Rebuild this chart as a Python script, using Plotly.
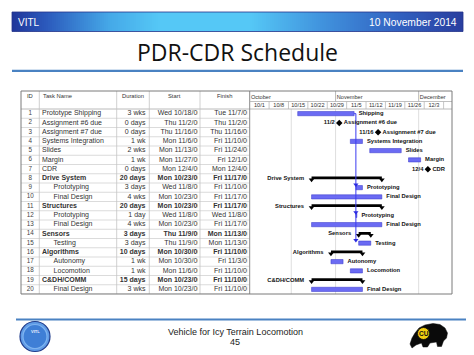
import plotly.graph_objects as go
from datetime import datetime, timedelta

# ------------------------------------------------------------------ data
ids = list(range(1, 21))
task_names = ["Prototype Shipping", "Assignment #6 due", "Assignment #7 due",
              "Systems Integration", "Slides", "Margin", "CDR", "Drive System",
              "Prototyping", "Final Design", "Structures", "Prototyping",
              "Final Design", "Sensors", "Testing", "Algorithms", "Autonomy",
              "Locomotion", "C&DH/COMM", "Final Design"]
outline_level = [1, 1, 1, 1, 1, 1, 1, 1, 2, 2, 1, 2, 2, 1, 2, 1, 2, 2, 1, 2]
durations = ["3 wks", "0 days", "0 days", "1 wk", "2 wks", "1 wk", "0 days",
             "20 days", "3 days", "4 wks", "20 days", "1 day", "4 wks",
             "3 days", "3 days", "10 days", "1 wk", "1 wk", "15 days", "3 wks"]
start_txt = ["Wed 10/18/06", "Thu 11/2/06", "Thu 11/16/06", "Mon 11/6/06",
             "Mon 11/13/06", "Mon 11/27/06", "Mon 12/4/06", "Mon 10/23/06",
             "Wed 11/8/06", "Mon 10/23/06", "Mon 10/23/06", "Wed 11/8/06",
             "Mon 10/23/06", "Thu 11/9/06", "Thu 11/9/06", "Mon 10/30/06",
             "Mon 10/30/06", "Mon 11/6/06", "Mon 10/23/06", "Mon 10/23/06"]
finish_txt = ["Tue 11/7/06", "Thu 11/2/06", "Thu 11/16/06", "Fri 11/10/06",
              "Fri 11/24/06", "Fri 12/1/06", "Mon 12/4/06", "Fri 11/17/06",
              "Fri 11/10/06", "Fri 11/17/06", "Fri 11/17/06", "Wed 11/8/06",
              "Fri 11/17/06", "Mon 11/13/06", "Mon 11/13/06", "Fri 11/10/06",
              "Fri 11/3/06", "Fri 11/10/06", "Fri 11/10/06", "Fri 11/10/06"]
task_kind = ["task", "milestone", "milestone", "task", "task", "task",
             "milestone", "summary", "task", "task", "summary", "task", "task",
             "summary", "task", "summary", "task", "task", "summary", "task"]
bar_labels = ["Shipping", "Assignment #6 due", "Assignment #7 due",
              "Systems Integration", "Slides", "Margin", "CDR", "Drive System",
              "Prototyping", "Final Design", "Structures", "Prototyping",
              "Final Design", "Sensors", "Testing", "Algorithms", "Autonomy",
              "Locomotion", "C&DH/COMM", "Final Design"]
column_headers = ["ID", "Task Name", "Duration", "Start", "Finish"]
month_labels = ["October", "November", "December"]
month_starts = ["2006-10-01", "2006-11-01", "2006-12-01"]
week_labels = ["10/1", "10/8", "10/15", "10/22", "10/29", "11/5", "11/12",
               "11/19", "11/26", "12/3", "12/10"]
week_starts = ["2006-10-01", "2006-10-08", "2006-10-15", "2006-10-22",
               "2006-10-29", "2006-11-05", "2006-11-12", "2006-11-19",
               "2006-11-26", "2006-12-03", "2006-12-10"]
grid_dates = ["2006-10-16", "2006-11-01", "2006-12-01"]
link_from = 1
link_to = [9, 12, 15]

# ------------------------------------------------------------------ geometry
W, H = 474, 355
FONT = "Liberation Sans"


def X(px):
    return px / W


def Y(py):
    return 1 - py / H


TBL_L, TBL_R, TBL_T, TBL_B = 21, 452, 91, 294
ROW1_TOP = 109
ROW_H = (TBL_B - ROW1_TOP) / 20
GX0 = 249.7
PX_DAY = 2.77
MONTH_TXT, MONTH_ROW_B, WEEK_TXT = 97.5, 101.5, 105.3
T0 = datetime(2006, 10, 1)
T1 = T0 + timedelta(days=(TBL_R - GX0) / PX_DAY)
col_edges = [21, 39.3, 116.7, 149.3, 200, GX0]


def ydata(py):
    return 0.5 + (py - ROW1_TOP) / ROW_H


def dpx(px):
    return timedelta(days=px / PX_DAY)


def parse(s):
    return datetime.strptime(s.split()[1], "%m/%d/%y")


start_d = [parse(s) for s in start_txt]
finish_d = [parse(s) for s in finish_txt]
bar_start = [d + timedelta(hours=8) for d in start_d]
bar_end = [d + timedelta(hours=17) for d in finish_d]
is_sum = [k == "summary" for k in task_kind]

fig = go.Figure()

# ------------------------------------------------------------------ gantt bars
t_idx = [i for i, k in enumerate(task_kind) if k == "task"]
fig.add_trace(go.Bar(
    orientation="h", y=[ids[i] for i in t_idx],
    base=[bar_start[i] for i in t_idx],
    x=[(bar_end[i] - bar_start[i]).total_seconds() * 1000 for i in t_idx],
    width=0.46, marker=dict(color="#6b6bf3", line=dict(color="#3434c8", width=0.5)),
    hoverinfo="skip"))

s_idx = [i for i, k in enumerate(task_kind) if k == "summary"]
fig.add_trace(go.Bar(
    orientation="h", y=[ids[i] - 0.06 for i in s_idx],
    base=[bar_start[i] for i in s_idx],
    x=[(bar_end[i] - bar_start[i]).total_seconds() * 1000 for i in s_idx],
    width=0.3, marker=dict(color="#000000", line=dict(width=0)),
    hoverinfo="skip"))
fig.add_trace(go.Scatter(
    x=[bar_start[i] for i in s_idx] + [bar_end[i] for i in s_idx],
    y=[ids[i] + 0.14 for i in s_idx] * 2, mode="markers",
    marker=dict(symbol="triangle-down", size=5, color="#000000"),
    hoverinfo="skip"))

m_idx = [i for i, k in enumerate(task_kind) if k == "milestone"]
fig.add_trace(go.Scatter(
    x=[bar_start[i] for i in m_idx], y=[ids[i] for i in m_idx], mode="markers",
    marker=dict(symbol="diamond", size=5, color="#000000"), hoverinfo="skip"))

# dependency link
src = link_from - 1
link_x = bar_start[link_to[0] - 1]
fig.add_trace(go.Scatter(
    x=[bar_end[src], link_x, link_x], y=[ids[src], ids[src], max(link_to) - 0.3],
    mode="lines", line=dict(color="#3b3bf0", width=1), hoverinfo="skip"))
fig.add_trace(go.Scatter(
    x=[link_x] * len(link_to), y=[r - 0.32 for r in link_to], mode="markers",
    marker=dict(symbol="triangle-down", size=4.5, color="#2a2ae0"),
    hoverinfo="skip"))

# gantt labels
lab_font = dict(family=FONT, size=5.8, color="#111111")
fig.add_trace(go.Scatter(
    x=[bar_end[i] + dpx(4.5) for i in t_idx], y=[ids[i] for i in t_idx],
    text=["<b>%s</b>" % bar_labels[i] for i in t_idx], mode="text",
    textposition="middle right", textfont=lab_font, cliponaxis=False,
    hoverinfo="skip"))
fig.add_trace(go.Scatter(
    x=[bar_start[i] - dpx(7.5) for i in s_idx], y=[ids[i] for i in s_idx],
    text=["<b>%s</b>" % bar_labels[i] for i in s_idx], mode="text",
    textposition="middle left", textfont=lab_font, cliponaxis=False,
    hoverinfo="skip"))
fig.add_trace(go.Scatter(
    x=[bar_start[i] + dpx(4.5) for i in m_idx], y=[ids[i] for i in m_idx],
    text=["<b>%s</b>" % bar_labels[i] for i in m_idx], mode="text",
    textposition="middle right", textfont=lab_font, cliponaxis=False,
    hoverinfo="skip"))
fig.add_trace(go.Scatter(
    x=[bar_start[i] - dpx(4.5) for i in m_idx], y=[ids[i] for i in m_idx],
    text=["<b>%d/%d</b>" % (start_d[i].month, start_d[i].day) for i in m_idx],
    mode="text", textposition="middle left", textfont=lab_font,
    cliponaxis=False, hoverinfo="skip"))

# gantt timescale header
hdr_font = dict(family=FONT, size=5.6, color="#333333")
fig.add_trace(go.Scatter(
    x=[datetime.fromisoformat(d) + dpx(1.2) for d in month_starts],
    y=[ydata(MONTH_TXT)] * len(month_starts),
    text=month_labels, mode="text", textposition="middle right",
    textfont=hdr_font, cliponaxis=True, hoverinfo="skip"))
fig.add_trace(go.Scatter(
    x=[datetime.fromisoformat(d) + timedelta(days=3.5) for d in week_starts],
    y=[ydata(WEEK_TXT)] * len(week_starts),
    text=week_labels, mode="text", textposition="middle center",
    textfont=hdr_font, cliponaxis=True, hoverinfo="skip"))

# ------------------------------------------------------------------ table text
tbl_font = dict(family=FONT, size=7, color="#333333")


def b(s, i):
    return "<b>%s</b>" % s if is_sum[i] else s


col_axes = {}
clip_right = [39.3, 116.7, 149.3, 197.6, 247.2]
for c in range(5):
    name = "xaxis%d" % (c + 2)
    col_axes[name] = dict(domain=[X(col_edges[c]), X(clip_right[c])],
                          range=[col_edges[c], clip_right[c]], visible=False,
                          anchor="y", fixedrange=True)

fig.add_trace(go.Scatter(
    x=[(col_edges[0] + col_edges[1]) / 2] * 20, y=ids, xaxis="x2",
    text=[str(i) for i in ids], mode="text", textposition="middle center",
    textfont=dict(family=FONT, size=6.3, color="#444444"), hoverinfo="skip"))
fig.add_trace(go.Scatter(
    x=[col_edges[1] + 2.7 + 11.6 * (lv - 1) for lv in outline_level], y=ids,
    xaxis="x3", text=[b(t, i) for i, t in enumerate(task_names)], mode="text",
    textposition="middle right", textfont=tbl_font, hoverinfo="skip"))
fig.add_trace(go.Scatter(
    x=[col_edges[3] - 3.8] * 20, y=ids, xaxis="x4",
    text=[b(t, i) for i, t in enumerate(durations)], mode="text",
    textposition="middle left", textfont=tbl_font, hoverinfo="skip"))
fig.add_trace(go.Scatter(
    x=[col_edges[4] + 1.2] * 20, y=ids, xaxis="x5",
    text=[b(t, i) for i, t in enumerate(start_txt)], mode="text",
    textposition="middle left", textfont=tbl_font, cliponaxis=True,
    hoverinfo="skip"))
fig.add_trace(go.Scatter(
    x=[col_edges[5] + 1.2] * 20, y=ids, xaxis="x6",
    text=[b(t, i) for i, t in enumerate(finish_txt)], mode="text",
    textposition="middle left", textfont=tbl_font, cliponaxis=True,
    hoverinfo="skip"))

# ------------------------------------------------------------------ shapes
shapes = []


def line(x0, y0, x1, y1, color, width=1, xref="paper", yref="paper",
         layer="above"):
    shapes.append(dict(type="line", x0=x0, y0=y0, x1=x1, y1=y1, xref=xref,
                       yref=yref, line=dict(color=color, width=width),
                       layer=layer))


# banner gradient
stops = [(12, (32, 54, 154)), (45, (43, 88, 187)), (110, (69, 169, 232)),
         (160, (85, 200, 246)), (250, (85, 200, 246)), (320, (65, 148, 222)),
         (400, (49, 96, 192)), (463, (41, 62, 159))]


def grad(px):
    for (a, ca), (bb, cb) in zip(stops[:-1], stops[1:]):
        if a <= px <= bb:
            t = (px - a) / (bb - a)
            return "rgb(%d,%d,%d)" % tuple(round(ca[k] + (cb[k] - ca[k]) * t)
                                          for k in range(3))
    return "rgb(41,62,159)"


step = 2
px = 12
while px < 463:
    shapes.append(dict(type="rect", xref="paper", yref="paper", x0=X(px),
                       x1=X(min(px + step + 0.3, 463)), y0=Y(31.5), y1=Y(12),
                       fillcolor=grad(px + step / 2), line=dict(width=0),
                       layer="below"))
    px += step
shapes.append(dict(type="rect", xref="paper", yref="paper", x0=X(12), x1=X(463),
                   y0=Y(31.5), y1=Y(12), line=dict(color="#23348a", width=0.8),
                   layer="below"))

# title / footer rules
line(X(12), Y(70.8), X(463), Y(70.8), "#4a82c2", 2.2)
line(X(16), Y(319.5), X(466), Y(319.5), "#4a82c2", 2.2)

# table grid
for r in ids:
    line(X(TBL_L), r + 0.5, X(GX0), r + 0.5, "#d2d2d2", 0.8, yref="y")
line(X(TBL_L), 0.5, X(TBL_R), 0.5, "#a8a8a8", 0.8, yref="y")
for e in col_edges[1:-1]:
    line(X(e), Y(TBL_T), X(e), Y(TBL_B), "#c4c4c4", 0.8)
line(X(GX0), Y(TBL_T), X(GX0), Y(TBL_B), "#8a8a8a", 1)
line(X(GX0), Y(MONTH_ROW_B), X(TBL_R), Y(MONTH_ROW_B), "#b0b0b0", 0.8)
for d in month_starts[1:]:
    line(d, Y(TBL_T), d, Y(MONTH_ROW_B), "#a8a8a8", 0.8, xref="x")
for d in week_starts[1:]:
    line(d, Y(MONTH_ROW_B), d, Y(ROW1_TOP), "#b8b8b8", 0.8, xref="x")
for d in grid_dates:
    line(d, 0.5, d, 20.5, "#d6d6d6", 0.8, xref="x", yref="y", layer="below")
shapes.append(dict(type="rect", xref="paper", yref="paper", x0=X(TBL_L),
                   x1=X(TBL_R), y0=Y(TBL_B), y1=Y(TBL_T),
                   line=dict(color="#7a7a7a", width=1)))

# left logo
for r, fc, lc in [(15, "#5f9be6", "#1f3c8c"), (12, "#3f7fd6", "#7fb4f0")]:
    shapes.append(dict(type="circle", xref="paper", yref="paper",
                       x0=X(35 - r), x1=X(35 + r), y0=Y(336.5 + r),
                       y1=Y(336.5 - r), fillcolor=fc,
                       line=dict(color=lc, width=1.2)))

# right logo (buffalo silhouette)
buff = [(410, 344), (412, 338), (415, 333), (419, 328), (425, 325), (433, 323.5),
        (440, 324.5), (445, 328), (447.5, 333), (446.5, 338), (443.5, 341),
        (441.5, 346.5), (437.5, 346.5), (436.5, 342), (430, 343), (427.5, 347),
        (423, 347), (421.5, 343), (416, 345), (412, 348)]
path = "M " + " L ".join("%.5f,%.5f" % (X(a), Y(bq)) for a, bq in buff) + " Z"
shapes.append(dict(type="path", xref="paper", yref="paper", path=path,
                   fillcolor="#0a0a0a", line=dict(color="#0a0a0a", width=0.5)))
shapes.append(dict(type="circle", xref="paper", yref="paper", x0=X(417.5),
                   x1=X(429.5), y0=Y(339.5), y1=Y(327.5), fillcolor="#f2cf10",
                   line=dict(color="#0a0a0a", width=0.8)))

# ------------------------------------------------------------------ annotations
ann = []


def text(x, y, s, size, color="#111111", xa="center", family=FONT, bold=False):
    ann.append(dict(x=X(x), y=Y(y), xref="paper", yref="paper",
                    text="<b>%s</b>" % s if bold else s, showarrow=False,
                    xanchor=xa, yanchor="middle", borderpad=0,
                    font=dict(family=family, size=size, color=color)))


text(17, 22.2, "VITL", 10, "#ffffff", "left")
text(457.5, 22.5, "10 November 2014", 10.3, "#ffffff", "right")
text(237, 51.5, "PDR-CDR Schedule", 23, "#111111", "center", "Open Sans")
text(235, 331.5, "Vehicle for Icy Terrain Locomotion", 9, "#222222")
text(235, 342, "45", 9, "#222222")
text(35, 331, "VITL", 4, "#e8f0ff", bold=True)
text(423.5, 333.5, "CU", 6.5, "#111111", bold=True)

hdr_y = 95.8
hdr_tbl_font = 5.8
text((col_edges[0] + col_edges[1]) / 2, hdr_y, column_headers[0], hdr_tbl_font, "#333333")
text(col_edges[1] + 2.5, hdr_y, column_headers[1], hdr_tbl_font, "#333333", "left")
for c in (2, 3, 4):
    text((col_edges[c] + col_edges[c + 1]) / 2, hdr_y, column_headers[c],
         hdr_tbl_font, "#333333")

# ------------------------------------------------------------------ layout
fig.update_layout(
    width=W, height=H, margin=dict(l=0, r=0, t=0, b=0),
    paper_bgcolor="#ffffff", plot_bgcolor="rgba(0,0,0,0)", showlegend=False,
    barmode="overlay",
    xaxis=dict(type="date", domain=[X(GX0), X(TBL_R)], range=[T0, T1],
               visible=False, fixedrange=True),
    yaxis=dict(domain=[Y(TBL_B), Y(TBL_T)], range=[20.5, ydata(TBL_T)],
               visible=False, fixedrange=True),
    shapes=shapes, annotations=ann, **col_axes)

fig.write_html("out.html", config={"displayModeBar": False},
               post_script="document.body.style.margin='0';"
                           "document.body.style.padding='0';"
                           "document.documentElement.style.overflow='hidden';")
